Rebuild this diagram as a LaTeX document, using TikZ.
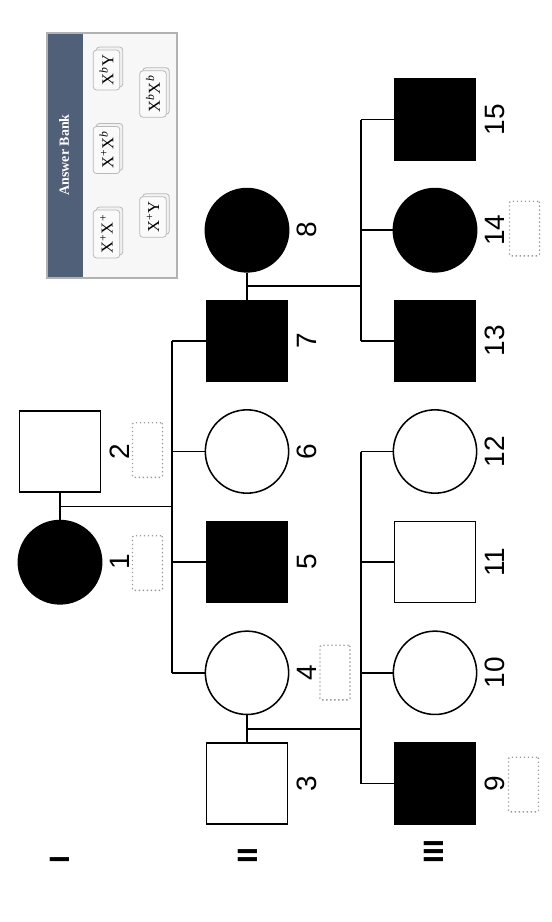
\documentclass[tikz,border=0pt]{standalone}
\usepackage{fontspec}
\usepackage{tikz}
\usetikzlibrary{calc}
\usepackage{xcolor}

\newfontfamily\pedfont{Liberation Sans}
\newfontfamily\bankfont{Liberation Serif}
\definecolor{bankhead}{RGB}{80,96,121}
\definecolor{bankbody}{RGB}{247,247,247}

\begin{document}
\begin{tikzpicture}[
		x=0.75pt, y=-0.75pt,
		line width=1.15pt,
		male/.style={
			rectangle,
			draw,
			fill=white,
			minimum size=60.75pt,
			inner sep=0pt
		},
		female/.style={
			circle,
			draw,
			fill=white,
			minimum size=62.5pt,
			inner sep=0pt
		},
		affected/.style={
			fill=black
		},
		idlabel/.style={
			rotate=90,
			inner sep=0pt,
			font=\pedfont\fontsize{21pt}{25pt}\selectfont
		},
		generation/.style={
			rotate=90,
			anchor=west,
			inner sep=0pt,
			font=\pedfont\bfseries\fontsize{21pt}{25pt}\selectfont
		},
		answerslot/.style={
			rectangle,
			rounded corners=1pt,
			draw=gray!80,
			dotted,
			line width=1pt,
			minimum width=22.5pt,
			minimum height=41pt
		},
		tile/.style={
			rectangle,
			rotate=90,
			rounded corners=2.5pt,
			draw=gray!55,
			line width=0.6pt,
			fill=gray!4,
			minimum height=20pt,
			inner xsep=3.5pt,
			font=\bankfont\fontsize{12.5pt}{14pt}\selectfont
		},
		tileback/.style={
			tile,
			fill=gray!10,
			text opacity=0
		}
		]
		\useasboundingbox (0,0) rectangle (551,922);
		
		% answer bank
		\fill[bankbody] (47,33) rectangle (177,278);
		\fill[bankhead] (47,33) rectangle (83,278);
		\draw[gray!60, line width=0.8pt] (47,33) rectangle (177,278);
		\node[rotate=90, text=white, font=\bankfont\bfseries\fontsize{10.5pt}{12pt}\selectfont] (banktitle) at (64,155) {Answer Bank};
		
		\node[tileback] (t1b) at (109.5,67) {X\textsuperscript{\itshape b}Y};
		\node[tile] (t1) at (106.5,70) {X\textsuperscript{\itshape b}Y};
		\node[tileback] (t2b) at (109.5,147) {X\textsuperscript{+}X\textsuperscript{\itshape b}};
		\node[tile] (t2) at (106.5,150) {X\textsuperscript{+}X\textsuperscript{\itshape b}};
		\node[tileback] (t3b) at (109.5,231) {X\textsuperscript{+}X\textsuperscript{+}};
		\node[tile] (t3) at (106.5,234) {X\textsuperscript{+}X\textsuperscript{+}};
		\node[tileback] (t4b) at (156,91) {X\textsuperscript{\itshape b}X\textsuperscript{\itshape b}};
		\node[tile] (t4) at (153,94) {X\textsuperscript{\itshape b}X\textsuperscript{\itshape b}};
		\node[tileback] (t5b) at (156,214) {X\textsuperscript{+}Y};
		\node[tile] (t5) at (153,217) {X\textsuperscript{+}Y};
		
		% generation I
		\node[female, affected] (n1) at (60,562.2) {};
		\node[male] (n2) at (60,451.5) {};
		
		% generation II
		\node[male] (n3) at (247,783.5) {};
		\node[female] (n4) at (247,672.8) {};
		\node[male, affected] (n5) at (247,562.2) {};
		\node[female] (n6) at (247,451.5) {};
		\node[male, affected] (n7) at (247,340.8) {};
		\node[female, affected] (n8) at (247,230.2) {};
		
		% generation III
		\node[male, affected] (n9) at (435,783.5) {};
		\node[female] (n10) at (435,672.8) {};
		\node[male] (n11) at (435,562.2) {};
		\node[female] (n12) at (435,451.5) {};
		\node[male, affected] (n13) at (435,340.8) {};
		\node[female, affected] (n14) at (435,230.2) {};
		\node[male, affected] (n15) at (435,119.5) {};
		
		% numbers
		\node[idlabel] (l1) at (120,562.2) {1};
		\node[idlabel] (l2) at (120,451.5) {2};
		\node[idlabel] (l3) at (307,783.5) {3};
		\node[idlabel] (l4) at (307,672.8) {4};
		\node[idlabel] (l5) at (307,562.2) {5};
		\node[idlabel] (l6) at (307,451.5) {6};
		\node[idlabel] (l7) at (307,340.8) {7};
		\node[idlabel] (l8) at (307,230.2) {8};
		\node[idlabel] (l9) at (495,783.5) {9};
		\node[idlabel] (l10) at (495,672.8) {10};
		\node[idlabel] (l11) at (495,562.2) {11};
		\node[idlabel] (l12) at (495,451.5) {12};
		\node[idlabel] (l13) at (495,340.8) {13};
		\node[idlabel] (l14) at (495,230.2) {14};
		\node[idlabel] (l15) at (495,119.5) {15};
		
		% empty answer boxes
		\node[answerslot] (a1) at (147.5,563) {};
		\node[answerslot] (a2) at (147.5,450) {};
		\node[answerslot] (a4) at (335,672.5) {};
		\node[answerslot] (a9) at (523.5,784.5) {};
		\node[answerslot] (a14) at (524.5,228.5) {};
		
		% roman numerals
		\node[generation] (g1) at (60,864) {I};
		\node[generation] (g2) at (248,864) {II};
		\node[generation] (g3) at (434,864) {III};
		
		%--
		\draw (n2) -- (n1);
		\coordinate (m12) at ($(n2.south)!0.5!(n1.north)$);
		\coordinate (s12) at (172,0 |- m12);
		\draw (m12) -- (s12);
		\draw (s12 |- n7) -- (s12 |- n4);
		\draw (s12 |- n7) -- (n7);
		\draw (s12 |- n6) -- (n6);
		\draw (s12 |- n5) -- (n5);
		\draw (s12 |- n4) -- (n4);
		%--
		\draw (n4) -- (n3);
		\coordinate (m34) at ($(n4.south)!0.5!(n3.north)$);
		\coordinate (s34) at (361,0 |- m34);
		\draw (m34) -- (s34);
		\draw (s34 |- n12) -- (s34 |- n9);
		\draw (s34 |- n12) -- (n12);
		\draw (s34 |- n11) -- (n11);
		\draw (s34 |- n10) -- (n10);
		\draw (s34 |- n9) -- (n9);
		%--
		\draw (n8) -- (n7);
		\coordinate (m78) at ($(n8.south)!0.5!(n7.north)$);
		\coordinate (s78) at (361,0 |- m78);
		\draw (m78) -- (s78);
		\draw (s78 |- n15) -- (s78 |- n13);
		\draw (s78 |- n15) -- (n15);
		\draw (s78 |- n14) -- (n14);
		\draw (s78 |- n13) -- (n13);
		
	\end{tikzpicture}
\end{document}
